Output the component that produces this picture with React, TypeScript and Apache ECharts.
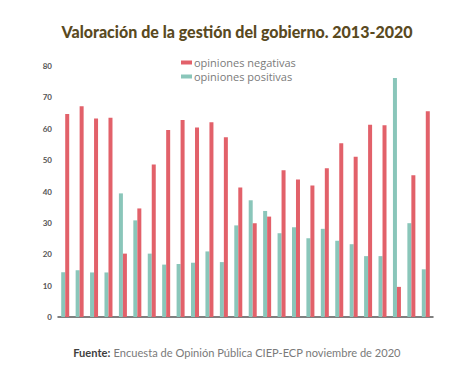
import React, { useEffect, useRef } from "react";
import * as echarts from "echarts";

const categories = Array.from({ length: 26 }, (_, i) => `P${i + 1}`);
const positivas = [14.3, 14.9, 14.2, 14.2, 39.4, 30.8, 20.2, 16.7, 16.9, 17.3, 20.9, 17.5, 29.2, 37.2, 33.8, 26.7, 28.6, 25.1, 28.1, 24.3, 23.2, 19.4, 19.4, 76.2, 29.9, 15.2];
const negativas = [64.7, 67.2, 63.3, 63.5, 20.2, 34.6, 48.6, 59.6, 62.8, 60.4, 62.1, 57.3, 41.3, 29.9, 32.0, 46.8, 43.8, 41.9, 47.4, 55.4, 51.1, 61.3, 61.1, 9.6, 45.2, 65.6];
const yTicks = [0, 10, 20, 30, 40, 50, 60, 70, 80];

const RED = "#e2616a";
const TEAL = "#8ac6ba";
const FONT = "Lato, 'Open Sans', sans-serif";

export default function App() {
  const ref = useRef<HTMLDivElement>(null);
  useEffect(() => {
    if (!ref.current) return;
    const chart = echarts.init(ref.current, undefined, { renderer: "svg" });
    chart.setOption({
      animation: false,
      backgroundColor: "#ffffff",
      title: {
        text: "Valoración de la gestión del gobierno. 2013-2020",
        left: "center",
        top: 18,
        textStyle: { fontFamily: FONT, fontSize: 16, fontWeight: 900, color: "#5a4a1f" },
      },
      legend: {
        orient: "vertical",
        left: 176,
        top: 51,
        itemWidth: 11,
        itemHeight: 4,
        itemGap: 1,
        icon: "rect",
        data: ["opiniones negativas", "opiniones positivas"],
        textStyle: {
          fontFamily: "'Open Sans', sans-serif",
          fontSize: 11,
          lineHeight: 13,
          color: "#7a7a7a",
          padding: [0, 0, 0, -3],
        },
      },
      grid: { left: 58, right: 41, top: 66, bottom: 60 },
      xAxis: {
        type: "category",
        data: categories,
        axisLine: { show: true, lineStyle: { color: "#555", width: 1.5 } },
        axisTick: { show: false },
        axisLabel: { show: false },
      },
      yAxis: {
        type: "value",
        min: 0,
        max: 80,
        interval: 10,
        splitLine: { show: false },
        axisLine: { show: false },
        axisTick: { show: false },
        axisLabel: {
          fontFamily: FONT,
          fontSize: 8,
          fontWeight: "bold",
          color: "#555",
          margin: 6,
          formatter: (v: number) => (yTicks.includes(v) ? String(v) : ""),
        },
      },
      series: [
        {
          name: "opiniones positivas",
          type: "bar",
          data: positivas,
          barWidth: 4,
          barGap: "0%",
          itemStyle: { color: TEAL },
        },
        {
          name: "opiniones negativas",
          type: "bar",
          data: negativas,
          barWidth: 4,
          barGap: "0%",
          itemStyle: { color: RED },
        },
      ],
      graphic: [
        {
          type: "text",
          left: "center",
          top: 346,
          style: {
            rich: {
              b: { fontFamily: FONT, fontSize: 11.1, fontWeight: "bold", fill: "#3f3f3f" },
              n: { fontFamily: FONT, fontSize: 11.1, fill: "#7a7a7a" },
            },
            text: "{b|Fuente:} {n|Encuesta de Opinión Pública CIEP-ECP noviembre de 2020}",
          },
        },
      ],
    });
    return () => chart.dispose();
  }, []);
  return <div ref={ref} style={{ width: 474, height: 377, position: "absolute", left: 0, top: 0 }} />;
}
